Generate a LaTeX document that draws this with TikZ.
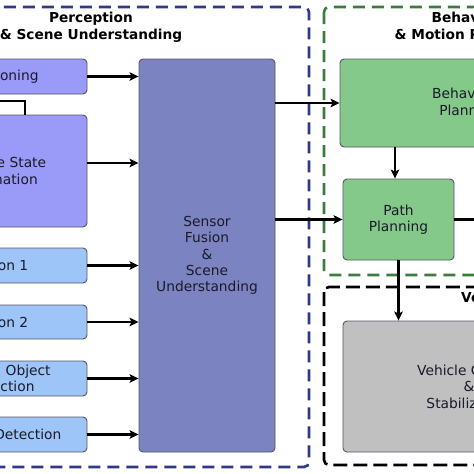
\documentclass[tikz,border=0pt]{standalone}
\usepackage{fontspec}
\setmainfont{DejaVu Sans}
\usetikzlibrary{arrows.meta}
\definecolor{perc}{HTML}{9A9AF8}
\definecolor{sens}{HTML}{9EC5F8}
\definecolor{fuse}{HTML}{7B83C1}
\definecolor{plan}{HTML}{84C98A}
\definecolor{ctrl}{HTML}{C0C0C0}
\definecolor{bluegrp}{HTML}{2E3A87}
\definecolor{greengrp}{HTML}{3A7D3A}
\definecolor{edge}{HTML}{555566}
\definecolor{txt}{HTML}{1A1A2A}
\tikzset{
  blk/.style={draw=edge, line width=0.9pt, rounded corners=4pt, align=center,
    inner sep=0pt, text=txt, font=\fontsize{13.8}{16.5}\selectfont},
  percbox/.style={blk, fill=perc, minimum width=172pt},
  sensbox/.style={blk, fill=sens, minimum width=172pt},
  conn/.style={line width=2.4pt, -{Stealth[length=9pt,width=8.5pt,inset=2pt]}},
  plainconn/.style={line width=2.4pt},
  grp/.style={line width=2.6pt, rounded corners=5pt, dash pattern=on 12pt off 7pt},
  grptitle/.style={font=\bfseries\fontsize{13.7}{17}\selectfont, align=center, inner sep=0pt}
}
\begin{document}
\begin{tikzpicture}[x=1pt,y=-1pt]
\useasboundingbox (0,0) rectangle (474,474);
\clip (0,0) rectangle (474,474);
% group frames
\draw[grp, draw=bluegrp] (-200,7) rectangle (309,467);
\draw[grp, draw=greengrp] (324,7) rectangle (700,275);
\draw[grp, draw=black, dash pattern=on 14pt off 6pt] (324,287) rectangle (700,465);
\node[grptitle] (tperc) at (91,27) {Perception\\\& Scene Understanding};
\node[grptitle] (tbeh) at (466,27) {Behavior\\\& Motion Planning};
\node[grptitle, anchor=west] (tctrl) at (461,297) {Vehicle Control};
% left column
\node[percbox, minimum height=35pt] (pos) at (1,76.5) {Positioning};
\node[percbox, minimum height=112pt] (vse) at (1,171) {Vehicle State\\Estimation};
\node[sensbox, minimum height=35pt] (v1) at (1,265.5) {Vision 1};
\node[sensbox, minimum height=34pt] (v2) at (1,322) {Vision 2};
\node[sensbox, minimum height=35pt] (mod) at (1,378.5) {Moving Object\\Detection};
\node[sensbox, minimum height=35pt] (obs) at (1,434.5) {Vehicle Detection};
% fusion
\node[blk, fill=fuse, minimum width=136pt, minimum height=393pt, font=\fontsize{13.8}{16.3}\selectfont] (sf) at (207,255.5) {Sensor\\Fusion\\\&\\Scene\\Understanding};
% right column
\node[blk, fill=plan, minimum width=258pt, minimum height=88pt] (beh) at (469,103) {Behavioral\\Planning};
\node[blk, fill=plan, minimum width=111pt, minimum height=81pt] (path) at (398.5,219.5) {Path\\Planning};
\node[blk, fill=ctrl, minimum width=252pt, minimum height=131pt] (vc) at (469,386.5) {Vehicle Control\\\&\\Stabilization};
% connectors
\coordinate (feed) at (-20,101);
\coordinate (bend) at (25,101);
\draw[plainconn, line width=2pt] (feed) -- (bend) -- (bend |- vse.north);
\draw[conn] (pos.east) -- (pos.east -| sf.west);
\draw[conn] ([yshift=8pt]vse.east) -- ([yshift=8pt]vse.east -| sf.west);
\draw[conn] (v1.east) -- (v1.east -| sf.west);
\draw[conn] (v2.east) -- (v2.east -| sf.west);
\draw[conn] (mod.east) -- (mod.east -| sf.west);
\draw[conn] (obs.east) -- (obs.east -| sf.west);
\draw[conn] (sf.east |- beh.west) -- (beh.west);
\draw[conn] (sf.east |- path.west) -- (path.west);
\draw[conn] ([xshift=-3.5pt]beh.south -| path.north) -- ([xshift=-3.5pt]path.north);
\draw[conn] (path.south) -- (path.south |- vc.north);
\coordinate (out) at (500,219.5);
\draw[plainconn] (path.east) -- (out);
\end{tikzpicture}
\end{document}
